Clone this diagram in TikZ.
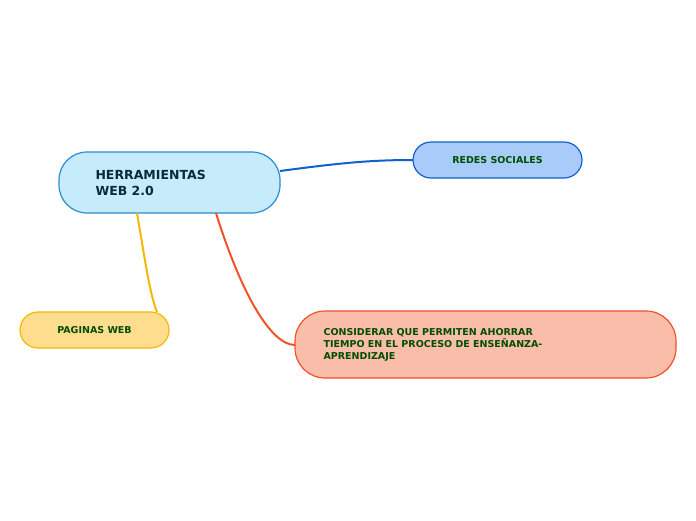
\documentclass[tikz,border=0pt]{standalone}
\usepackage{fontspec}
\setmainfont{DejaVu Sans}
\begin{document}
\begin{tikzpicture}[x=1pt,y=-1pt,
 box/.style={rounded corners=18pt,line width=1.2pt,font=\bfseries\fontsize{9.5}{12}\selectfont,text=green!30!black,align=left,inner sep=0pt},
 link/.style={line width=2pt}]
\useasboundingbox (0,0) rectangle (696,520);
\definecolor{cb}{HTML}{2A8BD0}\definecolor{cbf}{HTML}{C6EBFB}
\definecolor{rb}{HTML}{1060D0}\definecolor{rbf}{HTML}{A8CBFA}
\definecolor{yb}{HTML}{F5B800}\definecolor{ybf}{HTML}{FFDD8F}
\definecolor{ob}{HTML}{F0522A}\definecolor{obf}{HTML}{F9BDAA}
\definecolor{tx}{HTML}{0A2A3A}
\draw[box,draw=cb,fill=cbf,rounded corners=28pt] (59,152) rectangle (280,213);
\node[font=\bfseries\fontsize{12.5}{16}\selectfont,text=tx,align=left,anchor=west] (c) at (92,183) {HERRAMIENTAS\\WEB 2.0};
\coordinate (cr) at (280,171); \coordinate (cy) at (137,213); \coordinate (co) at (216,213);
\draw[box,draw=rb,fill=rbf] (413,142) rectangle (582,178);
\node[box] (r) at (497.5,160) {REDES SOCIALES};
\draw[box,draw=yb,fill=ybf] (20,312) rectangle (169,348);
\node[box] (p) at (94.5,330) {PAGINAS WEB};
\draw[box,draw=ob,fill=obf,rounded corners=30pt] (295,311) rectangle (676,378);
\node[box,anchor=west] (k) at (323,345) {CONSIDERAR QUE PERMITEN AHORRAR\\TIEMPO EN EL PROCESO DE ENSEÑANZA-\\APRENDIZAJE};
\coordinate (rl) at (413,160); \coordinate (pt) at (157,312); \coordinate (kl) at (295,345);
\draw[link,draw=rb] (cr) .. controls (340,163) and (370,160) .. (rl);
\draw[link,draw=yb] (cy) .. controls (145,260) and (150,295) .. (pt);
\draw[link,draw=ob] (co) .. controls (240,290) and (270,345) .. (kl);
\end{tikzpicture}
\end{document}
